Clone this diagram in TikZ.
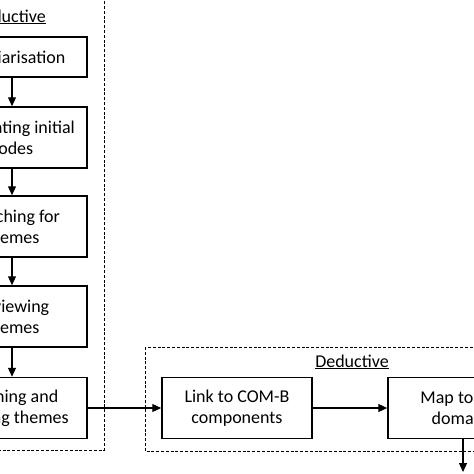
\documentclass[tikz,border=0pt]{standalone}
\usepackage{fontspec}
\setmainfont{Carlito}
\usetikzlibrary{arrows.meta}

\begin{document}
\begin{tikzpicture}
[x=1pt,y=-1pt]
\tikzset{stage/.style={draw,line width=1.5pt,minimum width=150pt,minimum height=61pt,align=center,inner sep=2pt,font=\fontsize{18}{21}\selectfont}}
\tikzset{group/.style={draw,dash pattern=on 3pt off 1.8pt,line width=1pt}}
\tikzset{link/.style={-{Triangle[length=9pt,width=8pt]},line width=1.1pt}}
\useasboundingbox (0,0) rectangle (474,474);
\clip (0,0) rectangle (474,474);

% groups
\draw [group] (-80,-5) rectangle (104,450);
\draw [group] (145,347) rectangle (560,451);
\node [anchor=base,font=\fontsize{18}{21}\selectfont] (ind) at (12,22) {\underline{Inductive}};
\node [anchor=base,font=\fontsize{18}{21}\selectfont] (ded) at (352,367) {\underline{Deductive}};

% stages
\node [stage,minimum height=40pt] (fam) at (12,57) {Familiarisation};
\node [stage] (gen) at (12,137.5) {Generating initial\\codes};
\node [stage] (sea) at (12,226.5) {Searching for\\themes};
\node [stage] (rev) at (12,316.5) {Reviewing\\themes};
\node [stage] (def) at (12,408) {Defining and\\naming themes};
\node [stage] (lnk) at (237,408) {Link to COM-B\\components};
\node [stage] (map) at (463,408) {Map to TDF\\domains};
\coordinate (next) at (463,472);

\foreach \from/\to in {fam/gen,gen/sea,sea/rev,rev/def,def/lnk,lnk/map}
	\draw [link] (\from) -- (\to);
\draw [link] (map) -- (next);

\end{tikzpicture}
\end{document}
